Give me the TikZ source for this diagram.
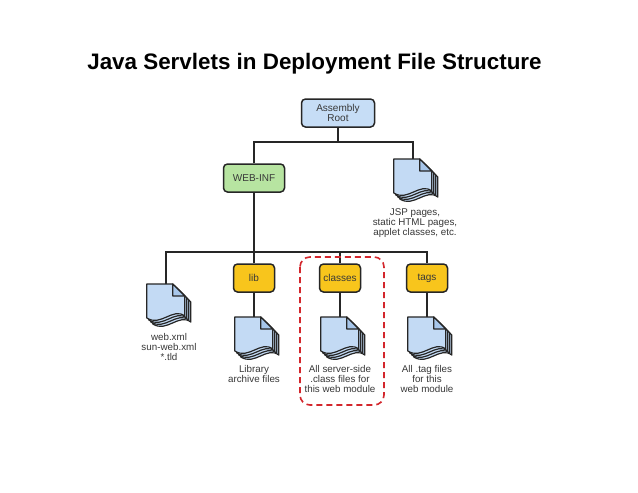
\documentclass[tikz,border=0pt]{standalone}
\usepackage{fontspec}
\setmainfont{Liberation Sans}
\definecolor{rootblue}{HTML}{C6DDF6}
\definecolor{docblue}{HTML}{C3DAF4}
\definecolor{foldblue}{HTML}{A7C6EA}
\definecolor{infgreen}{HTML}{B7E4A1}
\definecolor{dirgold}{HTML}{F8C51C}
\definecolor{linegray}{HTML}{262626}
\definecolor{textgray}{HTML}{383838}
\definecolor{dashred}{HTML}{D3262C}
\newcommand{\docicon}[2]{%
	\node[docbox] (#1) at (#2) {};
	\foreach \s in {6,4,2,0}
		\draw[docline, fill=docblue, shift={(#1.north west)}, shift={(\s,\s)}] (0,0) -- (26,0) -- (38,12) -- (38,32) .. controls (26,23) and (14,43) .. (0,34) -- cycle;
	\draw[docline, fill=foldblue, shift={(#1.north west)}] (26,0) -- (26,12) -- (38,12) -- cycle;
}
\begin{document}
\begin{tikzpicture}[x=1pt,y=-1pt]
	\tikzstyle{every node}+=[inner sep=0pt]
	\tikzstyle{folder}=[draw=linegray, line width=1.5pt, rounded corners=4pt, minimum width=41pt, minimum height=28pt, align=center, text=textgray, font=\fontsize{10}{10.5}\selectfont]
	\tikzstyle{docbox}=[anchor=north, minimum width=38pt, minimum height=40pt]
	\tikzstyle{docline}=[draw=linegray, line width=1.2pt, line join=round]
	\tikzstyle{doclabel}=[anchor=north, align=center, text=textgray, font=\fontsize{9.8}{10.2}\selectfont]
	\tikzstyle{link}=[draw=linegray, line width=1.5pt]
	\tikzstyle{hilite}=[draw=dashred, line width=1.6pt, rounded corners=10pt, dash pattern=on 6pt off 4pt]
	\fill[white] (0,0) rectangle (638,493);
	\node[anchor=base, font=\bfseries\fontsize{22.4}{26}\selectfont] (title) at (314.5,69) {Java Servlets in Deployment File Structure};
	\node[folder, fill=rootblue, minimum width=73pt] (root) at (338,113) {Assembly\\Root};
	\node[folder, fill=infgreen, minimum width=61pt] (webinf) at (254,178) {WEB-INF};
	\node[folder, fill=dirgold] (lib) at (254,278) {lib};
	\node[folder, fill=dirgold] (classes) at (340,278) {classes};
	\node[folder, fill=dirgold] (tags) at (427,278) {tags};
	\coordinate (top) at (338,142);
	\coordinate (mid) at (254,252);
	\docicon{jspdoc}{413,159}
	\docicon{webdoc}{166,284}
	\docicon{libdoc}{254,317}
	\docicon{classdoc}{340,317}
	\docicon{tagdoc}{427,317}
	\draw[link] (root) -- (top);
	\draw[link] (webinf.north) |- (top) -| (jspdoc.north);
	\draw[link] (webinf) -- (mid);
	\draw[link] (webdoc.north) |- (mid) -| (tags.north);
	\draw[link] (lib) -- (mid);
	\draw[link] (classes.north) -- (classes.north |- mid);
	\draw[link] (lib) -- (libdoc.north);
	\draw[link] (classes) -- (classdoc.north);
	\draw[link] (tags) -- (tagdoc.north);
	\node[doclabel] (jsplbl) at (415,208) {JSP pages,\\static HTML pages,\\applet classes, etc.};
	\node[doclabel] (weblbl) at (169,333) {web.xml\\sun-web.xml\\*.tld};
	\node[doclabel] (liblbl) at (254,365) {Library\\archive files};
	\node[doclabel] (classlbl) at (340,365) {All server-side\\.class files for\\this web module};
	\node[doclabel] (taglbl) at (427,365) {All .tag files\\for this\\web module};
	\draw[hilite] (300,257) rectangle (384,405);
\end{tikzpicture}
\end{document}
